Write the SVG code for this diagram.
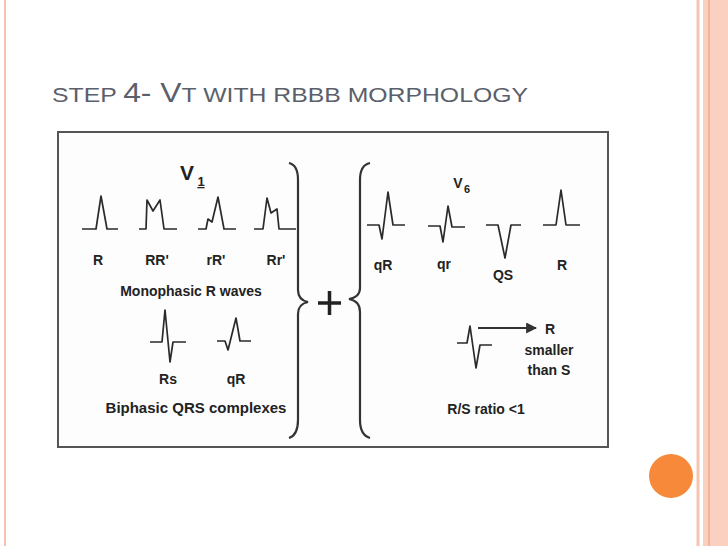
<svg xmlns="http://www.w3.org/2000/svg" width="728" height="546" viewBox="0 0 728 546">
<defs>
<style>
.w{fill:none;stroke:#2a2a2a;stroke-width:1.7;stroke-linejoin:round}
.t{font-family:"Liberation Sans",Arial,sans-serif;font-weight:bold;fill:#222;text-anchor:middle}
.b{fill:none;stroke:#333;stroke-width:2.2}
.p{fill:none;stroke:#222;stroke-width:3.5}
</style>
<marker id="ah" viewBox="0 0 10 10" refX="9" refY="5" markerWidth="5" markerHeight="5" orient="auto"><path d="M0,0L10,5L0,10z" fill="#333"/></marker>
</defs>
<rect width="728" height="546" fill="#fff"/>
<line x1="5" y1="0" x2="5" y2="546" stroke="#f6c3b0" stroke-width="2"/>
<line x1="698" y1="0" x2="698" y2="546" stroke="#f6c3b0" stroke-width="3"/>
<rect x="703" y="0" width="25" height="546" fill="#fbd0c0"/>
<line x1="709" y1="0" x2="709" y2="546" stroke="#f0a88e" stroke-width="1.5"/>
<circle cx="671" cy="476" r="22" fill="#f7893a"/>
<text x="52" y="102" font-family="'Liberation Sans',Arial,sans-serif" fill="#5a5f6b" font-size="21" textLength="476" lengthAdjust="spacingAndGlyphs">STEP <tspan font-size="27">4-  V</tspan>T WITH RBBB MORPHOLOGY</text>
<g id="panel"><rect x="58" y="132" width="550" height="315" fill="#fdfdfd" stroke="#555" stroke-width="2"/></g>
<g id="v1">
<text class="t" x="187" y="180" font-size="21">V</text>
<text class="t" x="201" y="186" font-size="13" text-decoration="underline">1</text>
<path class="w" d="M82,229H96L101,196L107,229H118"/>
<path class="w" d="M139,229H146L147,200L153,211L160,200L164,229H177"/>
<path class="w" d="M198,229H206L208,219L212,222L218,197L224,229H236"/>
<path class="w" d="M254,229H263L267,198L271,213L277,209L279,229H296"/>
<text class="t" x="98" y="265" font-size="14">R</text>
<text class="t" x="157" y="265" font-size="14">RR'</text>
<text class="t" x="216" y="265" font-size="14">rR'</text>
<text class="t" x="276" y="265" font-size="14">Rr'</text>
<text class="t" x="191" y="296" font-size="14">Monophasic R waves</text>
<path class="w" d="M150,342H162L165,310L170,362L173,342H186"/>
<path class="w" d="M217,341H225L228,350L236,318L240,341H251"/>
<text class="t" x="168" y="384" font-size="14">Rs</text>
<text class="t" x="236" y="384" font-size="14">qR</text>
<text class="t" x="196" y="413" font-size="15">Biphasic QRS complexes</text>
</g>
<g id="braces">
<path class="b" d="M289,163Q298,165 298,180V290Q298,300 308,302Q298,304 298,314V420Q298,435 289,438"/>
<path class="p" d="M318,303H341M329.5,291V315"/>
<path class="b" d="M370,163Q360,165 360,180V288Q360,297 349,299Q360,301 360,312V420Q360,435 370,438"/>
</g>
<g id="v6">
<text class="t" x="458" y="188" font-size="14" font-weight="normal">V</text>
<text class="t" x="467" y="193" font-size="11">6</text>
<path class="w" d="M367,225H379L382,239L388,192L393,225H405"/>
<path class="w" d="M428,226H440L443,242L448,206L452,227H465"/>
<path class="w" d="M486,225H498L505,258L511,225H521"/>
<path class="w" d="M543,225H556L561,190L566,225H580"/>
<text class="t" x="383" y="270" font-size="14">qR</text>
<text class="t" x="444" y="269" font-size="14">qr</text>
<text class="t" x="503" y="280" font-size="14">QS</text>
<text class="t" x="562" y="270" font-size="14">R</text>
<path class="w" d="M457,343H467L470,326L476,368L480,345H492"/>
</g>
<g id="connectors"><line x1="478" y1="328" x2="536" y2="328" stroke="#333" stroke-width="2.2" marker-end="url(#ah)"/></g>
<g id="labels">
<text class="t" x="550" y="334" font-size="14">R</text>
<text class="t" x="549" y="355" font-size="14">smaller</text>
<text class="t" x="549" y="375" font-size="14">than S</text>
<text class="t" x="486" y="414" font-size="14">R/S ratio &lt;1</text>
</g>
</svg>
